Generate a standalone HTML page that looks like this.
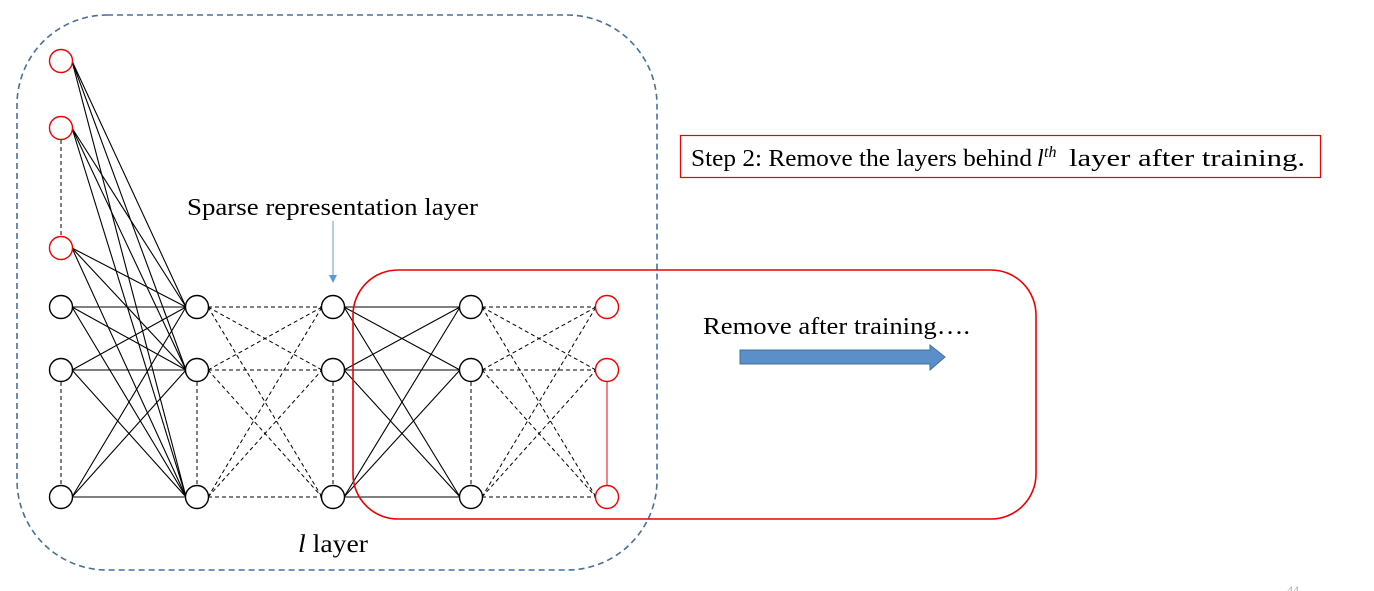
<!DOCTYPE html>
<html><head><meta charset="utf-8"><style>
html,body{margin:0;padding:0;background:#fff;}
svg{display:block;}
text{font-family:"Liberation Serif",serif;fill:#000;}
</style></head><body>
<svg width="1374" height="591" viewBox="0 0 1374 591" xmlns="http://www.w3.org/2000/svg">
<rect x="17" y="15" width="640" height="555" rx="90" fill="none" stroke="#4a6f98" stroke-width="1.6" stroke-dasharray="6,4"/>
<g stroke="#000" stroke-width="1.1" fill="none">
<line x1="72" y1="61" x2="186" y2="307"/><line x1="72" y1="61" x2="186" y2="370"/><line x1="72" y1="61" x2="186" y2="497"/>
<line x1="72" y1="128" x2="186" y2="307"/><line x1="72" y1="128" x2="186" y2="370"/><line x1="72" y1="128" x2="186" y2="497"/>
<line x1="72" y1="248" x2="186" y2="307"/><line x1="72" y1="248" x2="186" y2="370"/><line x1="72" y1="248" x2="186" y2="497"/>
<line x1="72" y1="307" x2="186" y2="307"/><line x1="72" y1="307" x2="186" y2="370"/><line x1="72" y1="307" x2="186" y2="497"/>
<line x1="72" y1="370" x2="186" y2="307"/><line x1="72" y1="370" x2="186" y2="370"/><line x1="72" y1="370" x2="186" y2="497"/>
<line x1="72" y1="497" x2="186" y2="307"/><line x1="72" y1="497" x2="186" y2="370"/><line x1="72" y1="497" x2="186" y2="497"/>
<line x1="344" y1="307" x2="460" y2="307"/><line x1="344" y1="307" x2="460" y2="370"/><line x1="344" y1="307" x2="460" y2="497"/>
<line x1="344" y1="370" x2="460" y2="307"/><line x1="344" y1="370" x2="460" y2="370"/><line x1="344" y1="370" x2="460" y2="497"/>
<line x1="344" y1="497" x2="460" y2="307"/><line x1="344" y1="497" x2="460" y2="370"/><line x1="344" y1="497" x2="460" y2="497"/>
</g>
<g stroke="#000" stroke-width="1" fill="none" stroke-dasharray="4,3">
<line x1="208" y1="307" x2="322" y2="307"/><line x1="208" y1="307" x2="322" y2="370"/><line x1="208" y1="307" x2="322" y2="497"/>
<line x1="208" y1="370" x2="322" y2="307"/><line x1="208" y1="370" x2="322" y2="370"/><line x1="208" y1="370" x2="322" y2="497"/>
<line x1="208" y1="497" x2="322" y2="307"/><line x1="208" y1="497" x2="322" y2="370"/><line x1="208" y1="497" x2="322" y2="497"/>
<line x1="482" y1="307" x2="596" y2="307"/><line x1="482" y1="307" x2="596" y2="370"/><line x1="482" y1="307" x2="596" y2="497"/>
<line x1="482" y1="370" x2="596" y2="307"/><line x1="482" y1="370" x2="596" y2="370"/><line x1="482" y1="370" x2="596" y2="497"/>
<line x1="482" y1="497" x2="596" y2="307"/><line x1="482" y1="497" x2="596" y2="370"/><line x1="482" y1="497" x2="596" y2="497"/>
<line x1="61" y1="140" x2="61" y2="236"/>
<line x1="61" y1="382" x2="61" y2="485"/>
<line x1="197" y1="382" x2="197" y2="485"/>
<line x1="333" y1="382" x2="333" y2="485"/>
<line x1="471" y1="382" x2="471" y2="485"/>
</g>
<line x1="607" y1="382" x2="607" y2="485" stroke="#e00" stroke-width="1"/>
<g fill="#fff" stroke-width="1.4">
<circle cx="61" cy="61" r="11.5" stroke="#e00"/>
<circle cx="61" cy="128" r="11.5" stroke="#e00"/>
<circle cx="61" cy="248" r="11.5" stroke="#e00"/>
<g stroke="#000">
<circle cx="61" cy="307" r="11.5"/><circle cx="61" cy="370" r="11.5"/><circle cx="61" cy="497" r="11.5"/>
<circle cx="197" cy="307" r="11.5"/><circle cx="197" cy="370" r="11.5"/><circle cx="197" cy="497" r="11.5"/>
<circle cx="333" cy="307" r="11.5"/><circle cx="333" cy="370" r="11.5"/><circle cx="333" cy="497" r="11.5"/>
<circle cx="471" cy="307" r="11.5"/><circle cx="471" cy="370" r="11.5"/><circle cx="471" cy="497" r="11.5"/>
</g>
<circle cx="607" cy="307" r="11.5" stroke="#e00"/>
<circle cx="607" cy="370" r="11.5" stroke="#e00"/>
<circle cx="607" cy="497" r="11.5" stroke="#e00"/>
</g>
<rect x="353" y="270" width="683" height="249" rx="45" fill="none" stroke="#e00" stroke-width="1.6"/>
<line x1="333" y1="221" x2="333" y2="275" stroke="#5b9bd5" stroke-width="1"/>
<polygon points="329,275 337,275 333,283" fill="#5b9bd5"/>
<text x="187" y="215" font-size="24" textLength="291" lengthAdjust="spacingAndGlyphs">Sparse representation layer</text>
<text x="298" y="552" font-size="25" textLength="70" lengthAdjust="spacingAndGlyphs"><tspan font-style="italic">l</tspan> layer</text>
<rect x="680.5" y="135.5" width="640" height="42" fill="none" stroke="#e00" stroke-width="1.2"/>
<text x="691" y="166" font-size="24" textLength="341" lengthAdjust="spacingAndGlyphs">Step 2: Remove the layers behind</text>
<text x="1037" y="166" font-size="24" font-style="italic">l</text>
<text x="1044" y="157" font-size="16" font-style="italic">th</text>
<text x="1069" y="166" font-size="24" textLength="236" lengthAdjust="spacingAndGlyphs">layer after training.</text>
<text x="703" y="334" font-size="24" textLength="267" lengthAdjust="spacingAndGlyphs">Remove after training….</text>
<polygon points="740,350 930,350 930,345 945,357 930,370 930,364 740,364" fill="#5b8fc9" stroke="#41719c" stroke-width="1"/>
<text x="1287" y="594" font-size="12" style="fill:#aaa">44</text>
</svg>
</body></html>
